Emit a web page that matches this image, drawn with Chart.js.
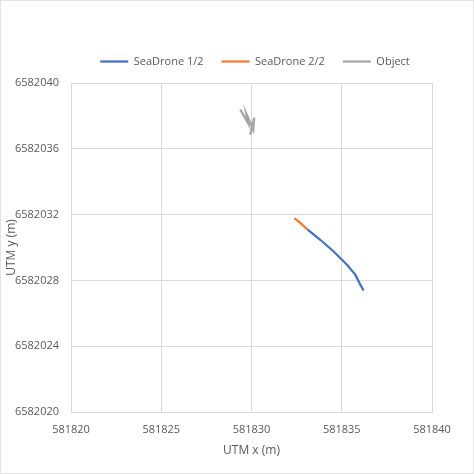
<!DOCTYPE html>
<html>
<head>
<meta charset="utf-8">
<script src="https://cdn.jsdelivr.net/npm/chart.js@4"></script>
<style>
    html, body { margin: 0; padding: 0; background: #fff; }
    #wrap { width: 474px; height: 474px; position: relative; }
</style>
</head>
<body>
<div id="wrap"><canvas id="utm_chart"></canvas></div>
<script>
    'use strict';

    // ------------------------------------------------------- //
    // Track data (UTM metres)
    // ------------------------------------------------------ //

    var drone1_x = [581833.11, 581833.81, 581834.55, 581835.29, 581835.75, 581836.03, 581836.21];
    var drone1_y = [6582031.08, 6582030.47, 6582029.76, 6582028.95, 6582028.35, 6582027.74, 6582027.39];

    var drone2_x = [581832.37, 581832.75, 581833.11];
    var drone2_y = [6582031.79, 6582031.45, 6582031.08];

    var object_x = [581829.38, 581829.82, 581829.71, 581830.10, 581830.15, 581829.93];
    var object_y = [6582038.38, 6582037.53, 6582038.13, 6582037.16, 6582037.89, 6582036.86];

    var x_ticks = [581820, 581825, 581830, 581835, 581840];
    var y_ticks = [6582020, 6582024, 6582028, 6582032, 6582036, 6582040];

    function toPoints(xs, ys) {
        var pts = [];
        for (var i = 0; i < xs.length; i++) {
            pts.push({x: xs[i], y: ys[i]});
        }
        return pts;
    }

    var font = {family: "'Open Sans', sans-serif", size: 11};
    var title_font = {family: "'Open Sans', sans-serif", size: 12};
    var grey_text = '#595959';
    var grid_col = '#d9d9d9';

    // white background + thin outer frame, legend nudged like the original
    var framePlugin = {
        id: 'frame',
        afterLayout: function (chart) {
            chart.legend.left += 39;
            chart.legend.right += 39;
            chart.legend.top -= 6;
            chart.legend.bottom -= 6;
        },
        beforeDraw: function (chart) {
            var ctx = chart.ctx;
            ctx.save();
            ctx.fillStyle = '#fff';
            ctx.fillRect(0, 0, chart.width, chart.height);
            ctx.strokeStyle = '#e3e3e3';
            ctx.lineWidth = 1;
            ctx.strokeRect(0.5, 0.5, chart.width - 1, chart.height - 1);
            ctx.restore();
        }
    };

    var UtmChart = new Chart(document.getElementById('utm_chart'), {
        type: 'scatter',
        data: {
            datasets: [
                {
                    label: 'SeaDrone 1/2',
                    data: toPoints(drone1_x, drone1_y),
                    borderColor: '#4472C4',
                    backgroundColor: '#4472C4',
                    borderWidth: 2.25,
                    showLine: true,
                    pointRadius: 0
                },
                {
                    label: 'SeaDrone 2/2',
                    data: toPoints(drone2_x, drone2_y),
                    borderColor: '#ED7D31',
                    backgroundColor: '#ED7D31',
                    borderWidth: 2.25,
                    showLine: true,
                    pointRadius: 0
                },
                {
                    label: 'Object',
                    data: toPoints(object_x, object_y),
                    borderColor: '#A5A5A5',
                    backgroundColor: '#A5A5A5',
                    borderWidth: 2.25,
                    showLine: true,
                    pointRadius: 0
                }
            ]
        },
        options: {
            responsive: true,
            maintainAspectRatio: false,
            animation: false,
            layout: {
                padding: {top: 44, right: 42, bottom: 0, left: 0}
            },
            plugins: {
                tooltip: {enabled: false},
                legend: {
                    position: 'top',
                    labels: {
                        usePointStyle: true,
                        pointStyle: 'line',
                        pointStyleWidth: 28,
                        padding: 18,
                        color: grey_text,
                        font: font
                    }
                }
            },
            scales: {
                x: {
                    type: 'linear',
                    min: x_ticks[0],
                    max: x_ticks[x_ticks.length - 1],
                    afterBuildTicks: function (scale) {
                        scale.ticks = x_ticks.map(function (v) { return {value: v}; });
                    },
                    afterFit: function (scale) { scale.height = 62; },
                    grid: {color: grid_col, drawTicks: false},
                    border: {color: grid_col},
                    ticks: {
                        padding: 11,
                        color: grey_text,
                        font: font,
                        maxRotation: 0,
                        callback: function (v) { return String(v); }
                    },
                    title: {
                        display: true,
                        text: 'UTM x (m)',
                        color: grey_text,
                        font: title_font,
                        padding: {top: 2, bottom: 16}
                    }
                },
                y: {
                    type: 'linear',
                    min: y_ticks[0],
                    max: y_ticks[y_ticks.length - 1],
                    afterBuildTicks: function (scale) {
                        scale.ticks = y_ticks.map(function (v) { return {value: v}; });
                    },
                    afterFit: function (scale) { scale.width = 71; },
                    grid: {color: grid_col, drawTicks: false},
                    border: {color: grid_col},
                    ticks: {
                        padding: 12,
                        color: grey_text,
                        font: font,
                        callback: function (v) { return String(v); }
                    },
                    title: {
                        display: true,
                        text: 'UTM y (m)',
                        color: grey_text,
                        font: title_font,
                        padding: {top: 4, bottom: 0}
                    }
                }
            }
        },
        plugins: [framePlugin]
    });
</script>
</body>
</html>
